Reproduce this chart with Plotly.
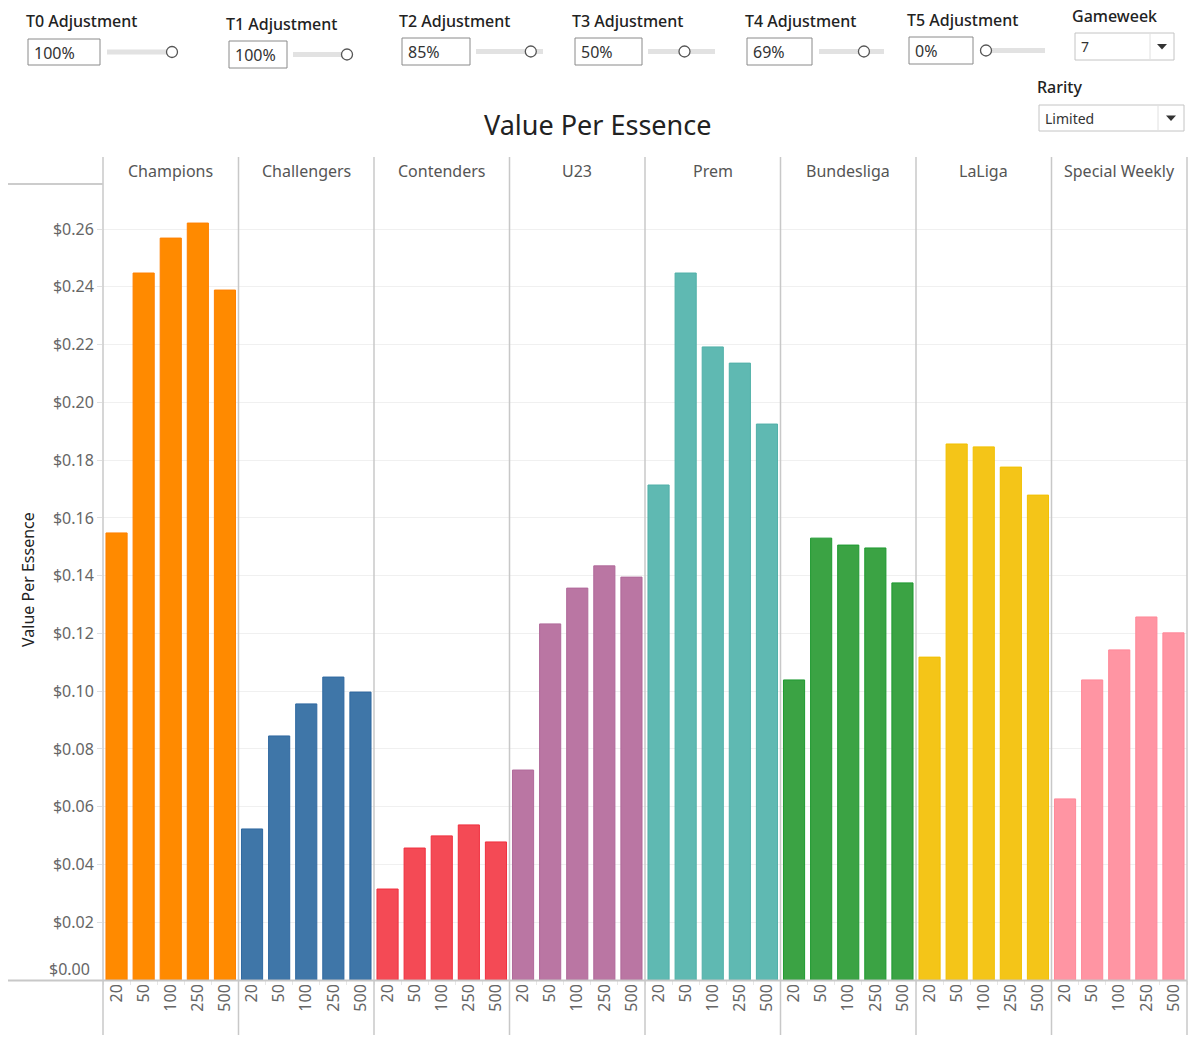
import plotly.graph_objects as go
from plotly.subplots import make_subplots

# ---------------- data ----------------
leagues = ["Champions", "Challengers", "Contenders", "U23", "Prem", "Bundesliga", "LaLiga", "Special Weekly"]
tiers = ["20", "50", "100", "250", "500"]
champions = [0.1548, 0.2448, 0.2569, 0.2621, 0.2389]
challengers = [0.0523, 0.0845, 0.0956, 0.1049, 0.0997]
contenders = [0.0315, 0.0457, 0.0499, 0.0537, 0.0478]
u23 = [0.0727, 0.1233, 0.1357, 0.1434, 0.1395]
prem = [0.1714, 0.2448, 0.2192, 0.2136, 0.1925]
bundesliga = [0.1039, 0.1530, 0.1506, 0.1496, 0.1375]
laliga = [0.1118, 0.1856, 0.1846, 0.1776, 0.1679]
special_weekly = [0.0627, 0.1039, 0.1143, 0.1257, 0.1202]
series = [champions, challengers, contenders, u23, prem, bundesliga, laliga, special_weekly]
colors = ["#FF8A00", "#3F76A8", "#F44A55", "#BA76A3", "#5FB9B2", "#3BA344", "#F4C518", "#FF95A3"]
edges = ["#FF8000", "#2F68A0", "#F0303F", "#B0699A", "#50B0A8", "#1E9A30", "#F2C000", "#FF8898"]
y_ticks = [0.02, 0.04, 0.06, 0.08, 0.10, 0.12, 0.14, 0.16, 0.18, 0.20, 0.22, 0.24, 0.26]

controls = [("T0 Adjustment", "100%", 1.0), ("T1 Adjustment", "100%", 1.0), ("T2 Adjustment", "85%", 0.8),
            ("T3 Adjustment", "50%", 0.5), ("T4 Adjustment", "69%", 0.66), ("T5 Adjustment", "0%", 0.0)]

W, H = 1200, 1039
FONT = "Noto Sans"


def px(x):
    return x / W


def py(y):
    return 1 - y / H


panel_edges = [103, 238.5, 374, 509.5, 645, 780.5, 916, 1051.5, 1187]
y_top, y_bot = 184, 980

fig = make_subplots(rows=1, cols=8, shared_yaxes=True, horizontal_spacing=0)

for i, (vals, c, e) in enumerate(zip(series, colors, edges)):
    fig.add_trace(go.Bar(x=tiers, y=vals, marker=dict(color=c, line=dict(color=e, width=1)),
                         hovertemplate="%{x}: $%{y:.3f}<extra>" + leagues[i] + "</extra>"),
                  row=1, col=i + 1)
    ax = "xaxis" if i == 0 else f"xaxis{i + 1}"
    fig.layout[ax].update(domain=[px(panel_edges[i]), px(panel_edges[i + 1])],
                          type="category", range=[-0.5, 4.5], tickangle=-90,
                          tickfont=dict(family=FONT, size=16, color="#666"),
                          ticks="outside", tickson="boundaries", ticklen=4, tickcolor="#e6e6e6",
                          showline=False, showgrid=False, zeroline=False, fixedrange=True)
    yax = "yaxis" if i == 0 else f"yaxis{i + 1}"
    fig.layout[yax].update(domain=[py(y_bot), py(y_top)], range=[0, (y_bot - y_top) / 2888.0],
                           showgrid=True, gridcolor="#f0f0f0", gridwidth=1, zeroline=False,
                           tickvals=y_ticks, showline=False, fixedrange=True)

fig.layout.yaxis.update(tickformat="$.2f", ticks="outside", ticklen=5, tickcolor="#e0e0e0",
                        tickfont=dict(family=FONT, size=16, color="#666"))

shapes = []
annotations = []


def note(text, x, y, size, color="#222", xanchor="center", weight=None, angle=0):
    f = dict(family=FONT, size=size, color=color)
    if weight:
        f["weight"] = weight
    annotations.append(dict(text=text, x=px(x), y=py(y), xref="paper", yref="paper", showarrow=False,
                            xanchor=xanchor, yanchor="middle", textangle=angle, font=f))


# panel separators
for xe in panel_edges:
    shapes.append(dict(type="line", xref="paper", yref="paper", x0=px(xe), x1=px(xe),
                       y0=py(157), y1=py(1035), line=dict(color="#c8c8c8", width=1.5)))
# header bottom line on the left, baseline
shapes.append(dict(type="line", xref="paper", yref="paper", x0=px(8), x1=px(103), y0=py(184), y1=py(184),
                   line=dict(color="#cccccc", width=2)))
shapes.append(dict(type="line", xref="paper", yref="paper", x0=px(8), x1=px(1187), y0=py(980.5), y1=py(980.5),
                   line=dict(color="#c8c8c8", width=2)))

# panel headers
for i, name in enumerate(leagues):
    note(name, (panel_edges[i] + panel_edges[i + 1]) / 2, 171, 16, "#555")

# $0.00 label (shifted up as in reference)
note("$0.00", 92, 969, 16, "#666", xanchor="right")
# axis title
note("Value Per Essence", 28, 580, 16, "#222", angle=-90)
# chart title
note("Value Per Essence", 597, 124, 27, "#222")

# sliders
ctrl_pos = [  # label_x, label_y, box_x0, box_x1, box_y0, box_y1, track_x0, track_x1
    (24, 21, 28, 100, 39, 65, 107, 172),
    (224, 24, 229, 287, 41, 68, 293, 347),
    (397, 21, 402, 470, 38, 65, 476, 543),
    (570, 21, 575, 642, 38, 65, 648, 715),
    (743, 21, 747, 812, 38, 65, 819, 884),
    (905, 20, 909, 973, 37, 64, 980, 1045),
]
for (lab, val, frac), (lx, ly, bx0, bx1, by0, by1, tx0, tx1) in zip(controls, ctrl_pos):
    note(lab, lx, ly, 16, "#222", xanchor="left", weight=500)
    shapes.append(dict(type="rect", xref="paper", yref="paper", x0=px(bx0), x1=px(bx1), y0=py(by0), y1=py(by1),
                       line=dict(color="#8a8a8a", width=1), fillcolor="white"))
    note(val, bx0 + 4, (by0 + by1) / 2 + 1, 16, "#333", xanchor="left")
    ty = (by0 + by1) / 2
    shapes.append(dict(type="line", xref="paper", yref="paper", x0=px(tx0), x1=px(tx1), y0=py(ty), y1=py(ty),
                       line=dict(color="#e2e2e2", width=5)))
    kx = tx0 + 6 + frac * (tx1 - tx0 - 6)
    r = 5.5
    shapes.append(dict(type="circle", xref="paper", yref="paper", x0=px(kx - r), x1=px(kx + r),
                       y0=py(ty - r), y1=py(ty + r), line=dict(color="#555", width=1.3), fillcolor="white"))

# dropdowns
dropdowns = [("Gameweek", "7", 1070, 16, 1075, 1174, 33, 60, 1150),
             ("Rarity", "Limited", 1035, 87, 1039, 1184, 105, 131, 1158)]
for lab, val, lx, ly, bx0, bx1, by0, by1, dv in dropdowns:
    note(lab, lx, ly, 16, "#222", xanchor="left", weight=500)
    shapes.append(dict(type="rect", xref="paper", yref="paper", x0=px(bx0), x1=px(bx1), y0=py(by0), y1=py(by1),
                       line=dict(color="#c4c4c4", width=1), fillcolor="white"))
    shapes.append(dict(type="line", xref="paper", yref="paper", x0=px(dv), x1=px(dv), y0=py(by0 + 1), y1=py(by1 - 1),
                       line=dict(color="#e0e0e0", width=1)))
    note(val, bx0 + 4, (by0 + by1) / 2, 14, "#333", xanchor="left")
    cx, cy = (dv + bx1) / 2, (by0 + by1) / 2
    shapes.append(dict(type="path", xref="paper", yref="paper",
                       path=f"M {px(cx - 5)} {py(cy - 2.5)} L {px(cx + 5)} {py(cy - 2.5)} L {px(cx)} {py(cy + 3)} Z",
                       fillcolor="#333", line=dict(width=0)))

fig.update_layout(width=W, height=H, margin=dict(l=0, r=0, t=0, b=0), showlegend=False,
                  paper_bgcolor="white", plot_bgcolor="white", bargap=0.22,
                  shapes=shapes, annotations=annotations, font=dict(family=FONT))

fig.write_html("out.html")
